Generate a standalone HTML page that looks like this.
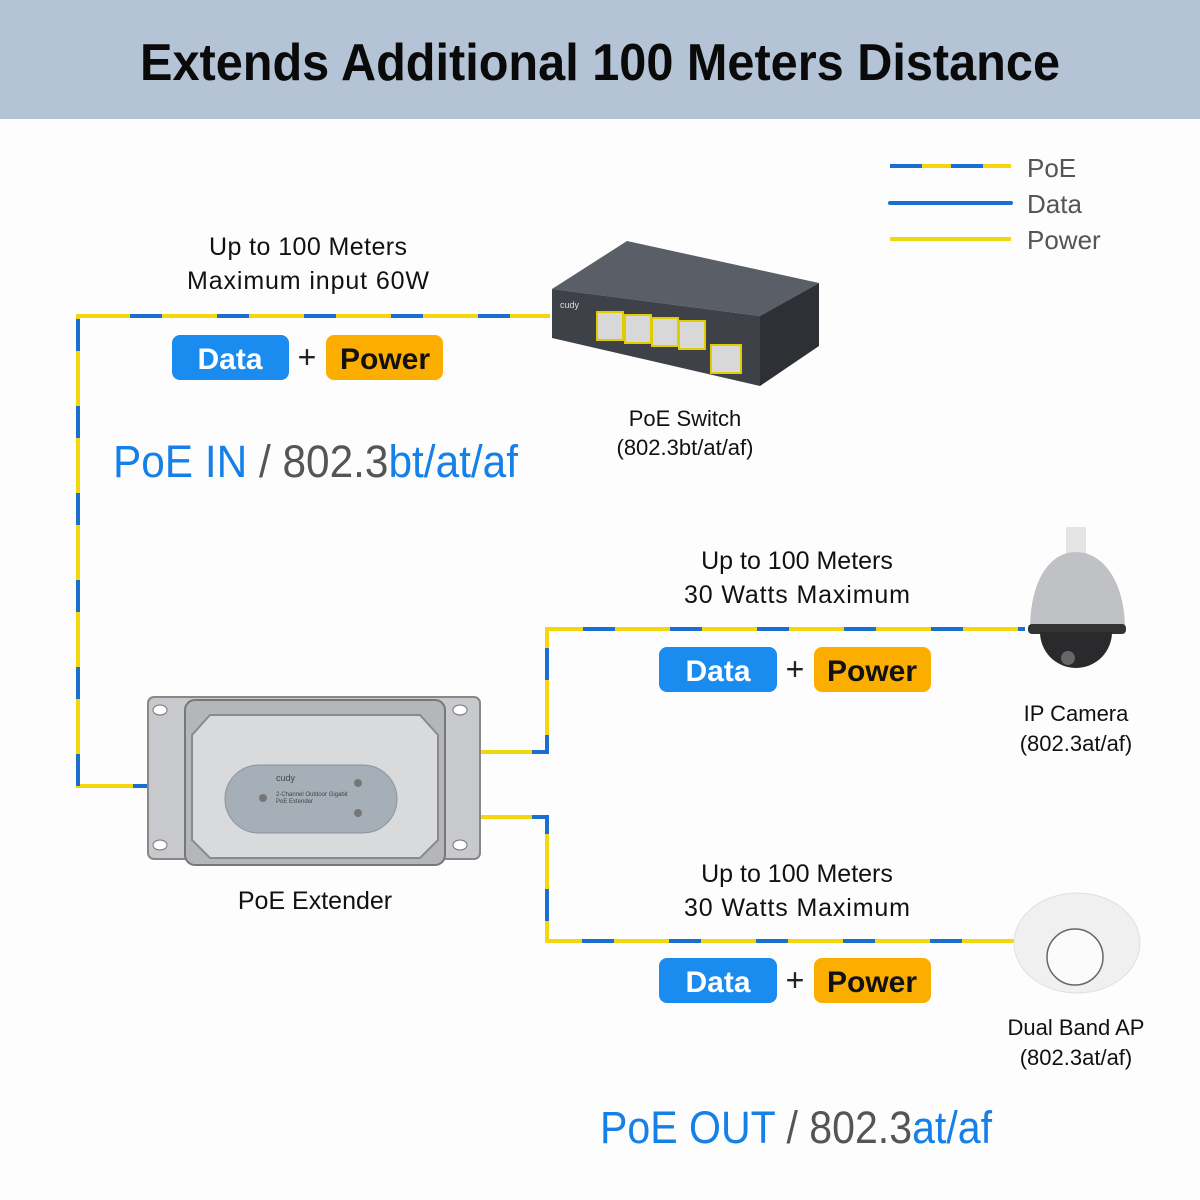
<!DOCTYPE html>
<html><head><meta charset="utf-8"><style>
html,body{margin:0;padding:0;background:#fdfdfd}
svg{display:block}
text{font-family:"Liberation Sans",sans-serif}
</style></head><body>
<svg width="1200" height="1200" viewBox="0 0 1200 1200" xmlns="http://www.w3.org/2000/svg">
<rect width="1200" height="1200" fill="#fdfdfd"/>
<rect width="1200" height="119" fill="#b4c4d6"/>
<text x="600" y="80" font-size="52" font-weight="bold" text-anchor="middle" textLength="920" lengthAdjust="spacingAndGlyphs" fill="#0a0a0a">Extends Additional 100 Meters Distance</text>

<!-- legend -->
<line x1="890" y1="166" x2="1011" y2="166" stroke="#f5d60a" stroke-width="4"/>
<line x1="890" y1="166" x2="1011" y2="166" stroke="#1a6fd1" stroke-width="4" stroke-dasharray="32 29"/>
<line x1="890" y1="203" x2="1011" y2="203" stroke="#1a6fd1" stroke-width="4" stroke-linecap="round"/>
<line x1="890" y1="239" x2="1011" y2="239" stroke="#f5d60a" stroke-width="4"/>
<text x="1027" y="177" font-size="26" fill="#555">PoE</text>
<text x="1027" y="213" font-size="26" fill="#555">Data</text>
<text x="1027" y="249" font-size="26" fill="#555">Power</text>

<!-- connectors -->
<g fill="none" stroke-width="4">
<path d="M550 316 H78 V786 H180" stroke="#f5d60a"/>
<path d="M550 316 H78 V786 H180" stroke="#1a6fd1" stroke-dasharray="32 55" stroke-dashoffset="-40"/>
<path d="M445 752 H547 V629 H1025" stroke="#f5d60a"/>
<path d="M445 752 H547 V629 H1025" stroke="#1a6fd1" stroke-dasharray="32 55"/>
<path d="M445 817 H547 V941 H1015" stroke="#f5d60a"/>
<path d="M445 817 H547 V941 H1015" stroke="#1a6fd1" stroke-dasharray="32 55"/>
</g>

<!-- top labels -->
<text x="308" y="255" font-size="25" text-anchor="middle" textLength="198" fill="#111">Up to 100 Meters</text>
<text x="308" y="289" font-size="25" text-anchor="middle" textLength="242" fill="#111">Maximum input 60W</text>
<g>
<rect x="172" y="335" width="117" height="45" rx="8" fill="#1a8cf0"/>
<text x="230" y="369" font-size="30" font-weight="bold" text-anchor="middle" fill="#fff">Data</text>
<text x="307" y="368" font-size="32" text-anchor="middle" fill="#222">+</text>
<rect x="326" y="335" width="117" height="45" rx="8" fill="#fcae00"/>
<text x="385" y="369" font-size="30" font-weight="bold" text-anchor="middle" fill="#111">Power</text>
</g>
<text x="113" y="477" font-size="45" textLength="405" lengthAdjust="spacingAndGlyphs" fill="#1580e8">PoE IN <tspan fill="#555">/ 802.3</tspan>bt/at/af</text>

<!-- switch -->
<polygon points="552,289 627,241 819,283 760,316" fill="#5a5e66"/>
<polygon points="552,289 760,316 760,386 552,338" fill="#3e4148"/>
<polygon points="760,316 819,283 819,346 760,386" fill="#2e3036"/>
<g fill="#d8d8d8" stroke="#e0cc00" stroke-width="2">
<rect x="597" y="312" width="26" height="28"/><rect x="625" y="315" width="26" height="28"/><rect x="652" y="318" width="26" height="28"/><rect x="679" y="321" width="26" height="28"/><rect x="711" y="345" width="30" height="28"/>
</g>
<text x="560" y="308" font-size="9" fill="#ddd">cudy</text>
<text x="685" y="426" font-size="22" text-anchor="middle" fill="#111">PoE Switch</text>
<text x="685" y="455" font-size="22" text-anchor="middle" fill="#111">(802.3bt/at/af)</text>

<!-- extender -->
<rect x="148" y="697" width="332" height="162" rx="6" fill="#c8c9cc" stroke="#888" stroke-width="2"/>
<rect x="185" y="700" width="260" height="165" rx="10" fill="#b5b6b9" stroke="#777" stroke-width="2"/>
<path d="M210 715 H420 L438 735 V840 L420 858 H210 L192 840 V735 Z" fill="#d9dadc" stroke="#8a8a8a" stroke-width="2"/>
<rect x="225" y="765" width="172" height="68" rx="34" fill="#a6aeb8" stroke="#8c939b"/>
<text x="276" y="781" font-size="9" fill="#444">cudy</text>
<text x="276" y="796" font-size="6" fill="#444">2-Channel Outdoor Gigabit</text>
<text x="276" y="803" font-size="6" fill="#444">PoE Extender</text>
<circle cx="263" cy="798" r="4" fill="#777"/><circle cx="358" cy="783" r="4" fill="#777"/><circle cx="358" cy="813" r="4" fill="#777"/>
<ellipse cx="160" cy="710" rx="7" ry="5" fill="#fff" stroke="#777"/><ellipse cx="160" cy="845" rx="7" ry="5" fill="#fff" stroke="#777"/>
<ellipse cx="460" cy="710" rx="7" ry="5" fill="#fff" stroke="#777"/><ellipse cx="460" cy="845" rx="7" ry="5" fill="#fff" stroke="#777"/>
<text x="315" y="909" font-size="25" text-anchor="middle" fill="#111">PoE Extender</text>

<!-- camera row -->
<text x="797" y="569" font-size="25" text-anchor="middle" fill="#111">Up to 100 Meters</text>
<text x="797" y="603" font-size="25" text-anchor="middle" textLength="226" fill="#111">30 Watts Maximum</text>
<rect x="659" y="647" width="118" height="45" rx="8" fill="#1a8cf0"/>
<text x="718" y="681" font-size="30" font-weight="bold" text-anchor="middle" fill="#fff">Data</text>
<text x="795" y="680" font-size="32" text-anchor="middle" fill="#222">+</text>
<rect x="814" y="647" width="117" height="45" rx="8" fill="#fcae00"/>
<text x="872" y="681" font-size="30" font-weight="bold" text-anchor="middle" fill="#111">Power</text>
<rect x="1066" y="527" width="20" height="30" fill="#e4e4e4"/>
<path d="M1030 630 C1030 580 1050 552 1076 552 C1102 552 1125 580 1125 630 Z" fill="#bfc1c4"/>
<rect x="1028" y="624" width="98" height="10" rx="4" fill="#333"/>
<path d="M1040 632 A36 36 0 0 0 1112 632 Z" fill="#2a2a2c"/>
<circle cx="1068" cy="658" r="7" fill="#666"/>
<text x="1076" y="721" font-size="22" text-anchor="middle" fill="#111">IP Camera</text>
<text x="1076" y="751" font-size="22" text-anchor="middle" fill="#111">(802.3at/af)</text>

<!-- AP row -->
<text x="797" y="882" font-size="25" text-anchor="middle" fill="#111">Up to 100 Meters</text>
<text x="797" y="916" font-size="25" text-anchor="middle" textLength="226" fill="#111">30 Watts Maximum</text>
<rect x="659" y="958" width="118" height="45" rx="8" fill="#1a8cf0"/>
<text x="718" y="992" font-size="30" font-weight="bold" text-anchor="middle" fill="#fff">Data</text>
<text x="795" y="991" font-size="32" text-anchor="middle" fill="#222">+</text>
<rect x="814" y="958" width="117" height="45" rx="8" fill="#fcae00"/>
<text x="872" y="992" font-size="30" font-weight="bold" text-anchor="middle" fill="#111">Power</text>
<ellipse cx="1077" cy="943" rx="63" ry="50" fill="#f0f0f0" stroke="#e0e0e0"/>
<circle cx="1075" cy="957" r="28" fill="#fbfbfb" stroke="#666" stroke-width="1.5"/>
<text x="1076" y="1035" font-size="22" text-anchor="middle" fill="#111">Dual Band AP</text>
<text x="1076" y="1065" font-size="22" text-anchor="middle" fill="#111">(802.3at/af)</text>

<text x="600" y="1143" font-size="45" textLength="392" lengthAdjust="spacingAndGlyphs" fill="#1580e8">PoE OUT <tspan fill="#555">/ 802.3</tspan>at/af</text>
</svg>
</body></html>
